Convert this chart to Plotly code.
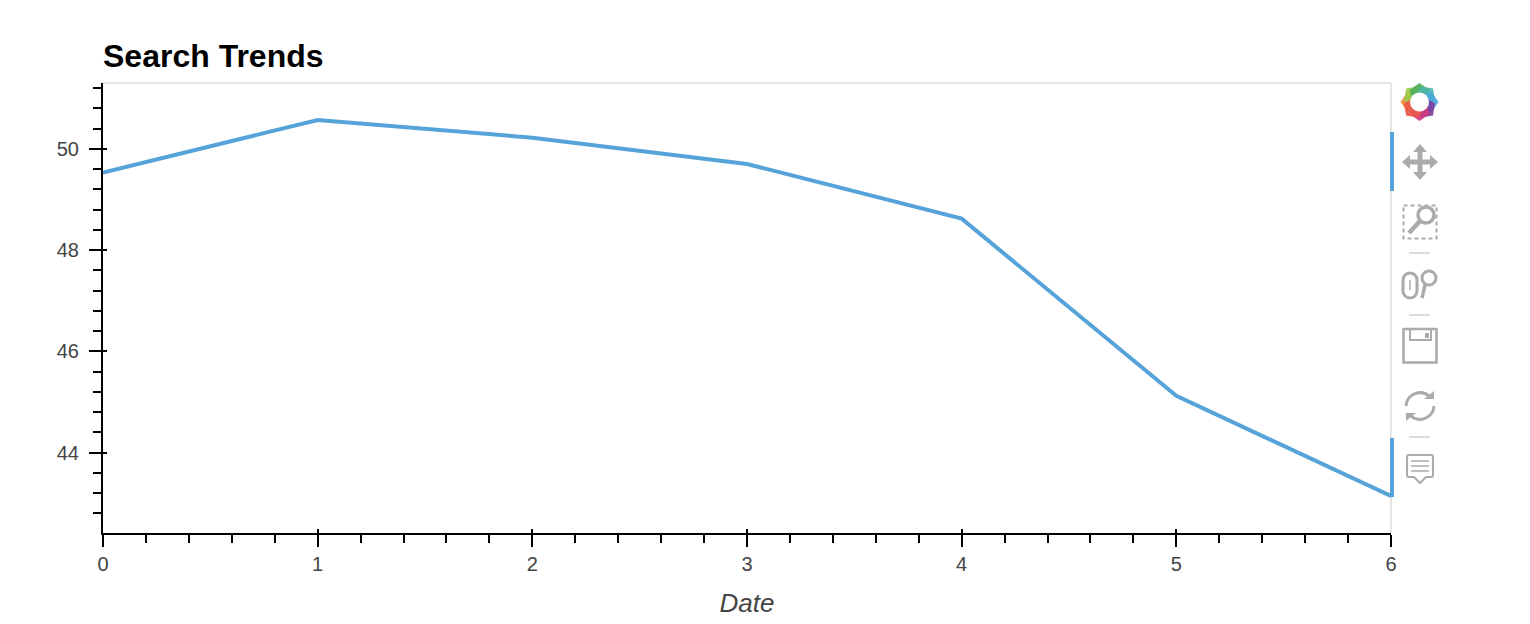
import base64
import plotly.graph_objects as go

dates = [0, 1, 2, 3, 4, 5, 6]
search_values = [49.53, 50.57, 50.22, 49.70, 48.62, 45.12, 43.14]
title_text = "Search Trends"
x_title = "Date"
x_range = [0, 6]
y_range = [42.41, 51.30]
y_ticks = [44, 46, 48, 50]

# The page body adds an 8px margin, so the figure is laid out 8px up and left of page coordinates
OFF = 8
W, H = 1530 - 2 * OFF, 624 - OFF
L, R, T, B = 103 - OFF, 1391 - OFF, 83 - OFF, 533 - OFF
BLUE = "#55a3d9"
G = "#ababab"

petals = ""
order = [("#f28c3a", 200), ("#9ccc4a", 245), ("#4fae5a", 290), ("#49b6a8", 335),
         ("#4aa8dc", 20), ("#7a3fa0", 65), ("#cf3a7e", 110), ("#e8584a", 155)]
for c, a in order:
    petals += (f'<path d="M1419.500 83 l10 7 -3 11 -14 0 -3 -11z" fill="{c}" fill-opacity="0.92" '
               f'transform="rotate({a + 70} 1419.500 102)"/>')
svg = f'''<svg xmlns="http://www.w3.org/2000/svg" width="50" height="410" viewBox="1395 80 50 410">
{petals}<circle cx="1419.500" cy="102" r="9.500" fill="#fff"/>
<g fill="{G}">
<path d="M1420 144l7 8h-4.500v7.500h7.500v-4.500l8 7-8 7v-4.500h-7.500v7.500h4.500l-7 8-7-8h4.500v-7.500h-7.500v4.500l-8-7 8-7v4.500h7.500v-7.500h-4.500z"/>
</g>
<g fill="none" stroke="{G}">
<rect x="1403.500" y="205.500" width="33" height="33" stroke-width="2" stroke-dasharray="4 3"/>
<circle cx="1426" cy="215" r="8" stroke-width="3.500" fill="#fff"/>
<path d="M1420 221l-11 12" stroke-width="4.500"/>
<path d="M1409 253h21M1409 315h21M1409 437h21" stroke-width="1.500" stroke="#cfcfcf"/>
<rect x="1403" y="273" width="14" height="25" rx="7" stroke-width="3"/>
<path d="M1410 280v10" stroke-width="1.500"/>
<circle cx="1429" cy="278" r="7" stroke-width="3"/>
<path d="M1425 285l-3 13" stroke-width="3.500"/>
<rect x="1403.500" y="329" width="33" height="33.500" stroke-width="2.500"/>
<path d="M1410 329v11h21v-11" stroke-width="2"/>
<path d="M1406 406a14 14 0 0 1 24-9M1434 406a14 14 0 0 1-24 9" stroke-width="3"/>
<path d="M1410 455h21a2 2 0 0 1 2 2v18a2 2 0 0 1-2 2h-5l-6 6-6-6h-5a2 2 0 0 1-2-2v-18a2 2 0 0 1 2-2z" stroke-width="2"/>
<path d="M1411 461h18M1411 466h18M1411 471h18" stroke-width="1.500"/>
</g>
<path d="M1424 399h10v-8zM1416 413h-10v8z" fill="{G}"/>
<rect x="1425" y="333" width="4" height="5" fill="{G}"/>
</svg>'''
src = "data:image/svg+xml;base64," + base64.b64encode(svg.encode()).decode()

px = R - L
py = B - T

fig = go.Figure()
fig.add_trace(go.Scatter(x=dates, y=search_values, mode="lines",
                         line=dict(color=BLUE, width=4), cliponaxis=True,
                         showlegend=False, hoverinfo="skip"))
fig.add_trace(go.Scatter(x=dates, y=search_values, xaxis="x2", yaxis="y2", mode="lines",
                         line=dict(color="rgba(0,0,0,0)"), showlegend=False, hoverinfo="skip"))

tickfont = dict(family="Liberation Sans", size=20, color="#444444")
fig.update_layout(
    width=W, height=H, autosize=False,
    paper_bgcolor="white", plot_bgcolor="white",
    margin=dict(l=L, r=W - R, t=T, b=H - B, pad=0),
    title=dict(text=title_text, x=L / W, xanchor="left", y=1 - 59 / H, yanchor="bottom",
               font=dict(family="Liberation Sans", size=32, color="#000000", weight="bold")),
    xaxis=dict(range=x_range, tickmode="array", tickvals=dates, ticks="outside", ticklen=12,
               tickwidth=2, tickcolor="#000", showline=True, linecolor="#000", linewidth=2,
               showgrid=False, zeroline=False, tickfont=tickfont,
               minor=dict(dtick=0.2, tick0=0, ticks="outside", ticklen=8, tickwidth=2,
                          tickcolor="#000", showgrid=False),
               title=dict(text=x_title, standoff=20,
                          font=dict(family="Liberation Sans", size=26, color="#444444", style="italic"))),
    yaxis=dict(range=y_range, tickmode="array", tickvals=y_ticks, ticks="outside", ticklen=12,
               tickwidth=2, tickcolor="#000", showline=True, linecolor="#000", linewidth=2,
               showgrid=False, zeroline=False, tickfont=tickfont, ticklabelstandoff=6,
               minor=dict(dtick=0.4, tick0=42, ticks="outside", ticklen=8, tickwidth=2,
                          tickcolor="#000", showgrid=False)),
    xaxis2=dict(range=x_range, overlaying="x", anchor="y", tickmode="array", tickvals=dates,
                ticks="inside", ticklen=4, tickwidth=2, tickcolor="#000",
                showticklabels=False, showgrid=False, zeroline=False, showline=False),
    yaxis2=dict(range=y_range, overlaying="y", anchor="x", tickmode="array", tickvals=y_ticks,
                ticks="inside", ticklen=4, tickwidth=2, tickcolor="#000",
                showticklabels=False, showgrid=False, zeroline=False, showline=False),
    shapes=[
        dict(type="line", xref="paper", yref="paper", x0=0, x1=1, y0=1, y1=1,
             line=dict(color="#e5e5e5", width=2), layer="below"),
        dict(type="line", xref="paper", yref="paper", x0=1, x1=1, y0=0, y1=1,
             line=dict(color="#e5e5e5", width=2), layer="below"),
        dict(type="rect", xref="paper", yref="paper", x0=-1 / px + 1, x1=1 + 3 / px,
             y0=(B - (191 - OFF)) / py, y1=(B - (132 - OFF)) / py, fillcolor=BLUE, line=dict(width=0)),
        dict(type="rect", xref="paper", yref="paper", x0=-1 / px + 1, x1=1 + 3 / px,
             y0=(B - (497 - OFF)) / py, y1=(B - (438 - OFF)) / py, fillcolor=BLUE, line=dict(width=0)),
    ],
    images=[dict(source=src, xref="paper", yref="paper", x=(1395 - OFF - L) / px, y=(B - (80 - OFF)) / py,
                 sizex=50 / px, sizey=410 / py, xanchor="left", yanchor="top",
                 sizing="stretch", layer="above")],
)
fig.write_html("out.html", config=dict(displayModeBar=False))
